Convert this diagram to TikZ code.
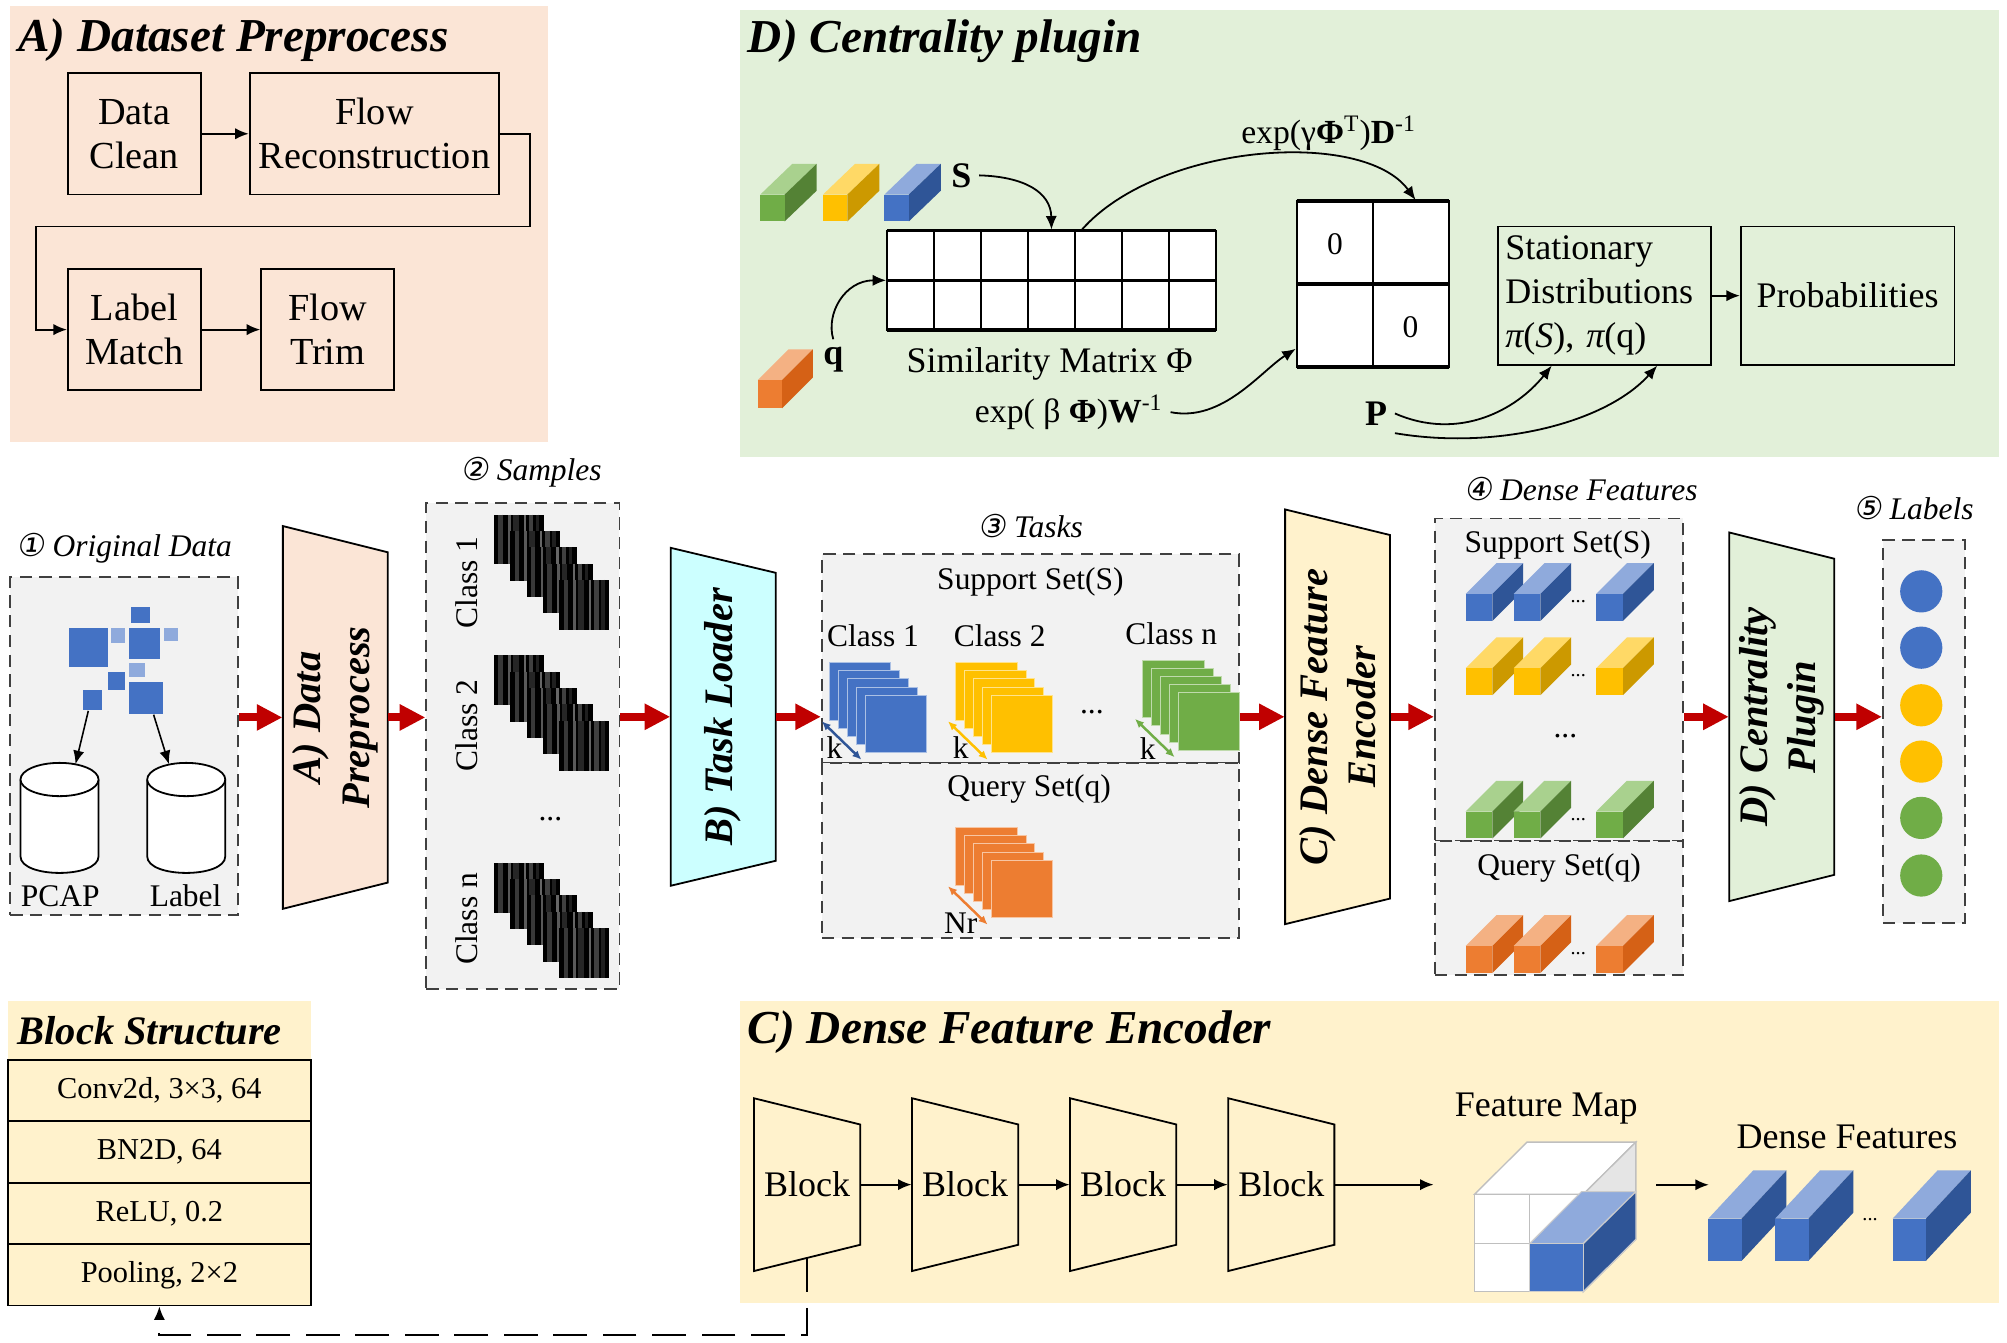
\documentclass[tikz,border=0pt]{standalone}
\usepackage{fontspec}
\setmainfont{Liberation Serif}
\newfontfamily\circfont[FakeSlant=0.15]{DejaVu Sans}
\usetikzlibrary{arrows.meta,positioning}

\definecolor{peach}{RGB}{251,229,214}
\definecolor{paleG}{RGB}{226,240,217}
\definecolor{paleY}{RGB}{255,242,204}
\definecolor{paleC}{RGB}{204,255,255}
\definecolor{lgray}{RGB}{242,242,242}
\definecolor{redc}{RGB}{192,0,0}
\definecolor{blueF}{RGB}{68,114,196}
\definecolor{blueT}{RGB}{143,170,220}
\definecolor{blueS}{RGB}{47,85,151}
\definecolor{yellF}{RGB}{255,192,0}
\definecolor{yellT}{RGB}{255,217,102}
\definecolor{yellS}{RGB}{204,153,0}
\definecolor{greenF}{RGB}{112,173,71}
\definecolor{greenT}{RGB}{169,209,142}
\definecolor{greenS}{RGB}{84,130,53}
\definecolor{orangeF}{RGB}{237,125,49}
\definecolor{orangeT}{RGB}{244,177,131}
\definecolor{orangeS}{RGB}{213,97,22}

% 3d feature bar: x, y (front top left), w, h, depth dx, dy, colour
\newcommand{\featbar}[7]{%
  \fill[#7T] (#1,#2) -- ++(#5,#6) -- ++(#3,0) -- (#1+#3,#2) -- cycle;
  \fill[#7S] (#1+#3,#2) -- ++(#5,#6) -- ++(0,#4) -- (#1+#3,#2+#4) -- cycle;
  \fill[#7F] (#1,#2) rectangle ++(#3,#4);}

% slanted module: name, x left, width, y centre, half height left, half height right, fill
\newcommand{\funnel}[7]{%
  \draw[line width=0.8pt, fill=#7] (#2,#4-#5) -- (#2+#3,#4-#6) -- (#2+#3,#4+#6) -- (#2,#4+#5) -- cycle;
  \node[minimum width=#3*0.02cm, minimum height=(#5+#6)*0.02cm, inner sep=0pt] (#1) at (#2+#3/2,#4) {};}

% stack of packet images
\newcommand{\pktstack}[2]{%
  \foreach \i in {0,...,4}{%
    \fill[black] (#1+12.75*\i,#2+12.75*\i) rectangle ++(39,39);
    \foreach \s/\g/\w in {5/22/2,12/35/1.2,17/15/2.4,24/40/1,29/25/1.8,34/12/1.5}
      \draw[white!\g!black, line width=\w pt] (#1+12.75*\i+\s,#2+12.75*\i) -- ++(0,39);
  }}

% stack of sample sheets: x, y, fill, arrow colour, label, label y
\newcommand{\sheets}[6]{%
  \foreach \i in {0,...,4}
    \filldraw[fill=#3, draw=white!55!#3, line width=0.4pt] (#1+6.95*\i,#2+6.4*\i) rectangle ++(48,45);
  \draw[{Latex[length=4pt,width=3.5pt]}-{Latex[length=4pt,width=3.5pt]}, draw=#4, line width=1.1pt] (#1-6,#2+46) -- (#1+25,#2+76);
  \node[small] at (#1+4,#2+#6) {#5};}

\begin{document}
\begin{tikzpicture}[x=0.02cm, y=-0.02cm, font=\fontsize{16}{19.6}\selectfont,
  box/.style={draw, line width=0.8pt, align=center, inner sep=0pt, font=\fontsize{17}{19.5}\selectfont},
  arr/.style={-{Latex[length=6pt,width=5pt]}, line width=0.8pt},
  redarr/.style={draw=redc, line width=3.6pt, -{Triangle[length=11.4pt,width=11pt]}},
  dbox/.style={draw=black!75, fill=lgray, dash pattern=on 5.5pt off 3.3pt, line width=0.8pt, inner sep=0pt},
  fb/.style={line width=0.8pt, dash pattern=on 15pt off 7pt, -{Latex[length=6pt,width=5pt]}},
  title/.style={anchor=west, inner sep=0pt, font=\fontsize{21}{25}\selectfont\bfseries\itshape},
  traptext/.style={rotate=90, align=center, font=\fontsize{18}{21.5}\selectfont\bfseries\itshape},
  lab/.style={font=\fontsize{14}{17}\selectfont\itshape},
  small/.style={font=\fontsize{14}{16}\selectfont},
  tiny/.style={font=\fontsize{9}{10}\selectfont},
  bold/.style={font=\fontsize{16}{19}\selectfont\bfseries},
  sq/.style={fill=blueF, inner sep=0pt},
  row/.style={draw, fill=paleY, line width=0.8pt, minimum width=4.74cm, minimum height=0.96cm, inner sep=0pt, font=\fontsize{13.5}{16}\selectfont}]

\useasboundingbox (0,0) rectangle (1568,1049);

% panels
\fill[peach] (8,5) rectangle (428,345);
\fill[paleG] (578,8) rectangle (1562,357);
\fill[paleY] (6,782) rectangle (243,1020);
\fill[paleY] (578,782) rectangle (1562,1018);

% A) Dataset Preprocess
\node[title] at (14,31) {A) Dataset Preprocess};
\node[box, minimum width=2.08cm, minimum height=1.9cm] (clean) at (105,104.5) {Data\\Clean};
\node[box, minimum width=3.9cm, minimum height=1.9cm] (recon) at (292.5,104.5) {Flow\\Reconstruction};
\node[box, minimum width=2.08cm, minimum height=1.9cm] (match) at (105,257.5) {Label\\Match};
\node[box, minimum width=2.08cm, minimum height=1.9cm] (trim) at (256,257.5) {Flow\\Trim};
\draw[arr] (clean) -- (recon);
\draw[arr] (recon.east) -- (414,104.5) |- (28,177) |- (match.west);
\draw[arr] (match) -- (trim);

% D) Centrality plugin
\node[title] at (584,32) {D) Centrality plugin};
\featbar{594}{152}{19}{21}{25}{-24}{green}
\featbar{643}{152}{19}{21}{25}{-24}{yell}
\featbar{691}{152}{19}{21}{25}{-24}{blue}
\featbar{592}{297}{19}{22}{24}{-24}{orange}
\node[bold] (S) at (751,137) {S};
\node[bold] (q) at (651,281) {q};
\node[draw, fill=white, line width=0.8pt, minimum width=5.14cm, minimum height=1.56cm, inner sep=0pt] (simmat) at (821.5,219) {};
\foreach \i in {1,...,6} \draw[line width=0.8pt] (693+36.71*\i,180) -- ++(0,78);
\foreach \j in {180,219,258} \draw[line width=1.6pt] (693,\j) -- (950,\j);
\node (simlab) at (820,284) {Similarity Matrix Φ};
\draw[arr] (S.east) .. controls (800,138) and (821,150) .. (simmat.north);
\draw[arr] (q.north) .. controls (645,245) and (660,219) .. (simmat.west);

\node[draw, fill=white, line width=0.8pt, minimum width=2.38cm, minimum height=2.6cm, inner sep=0pt] (pmat) at (1072.5,222) {};
\draw[line width=0.8pt] (pmat.north) -- (pmat.south);
\foreach \j in {157,222,287} \draw[line width=1.8pt] (1013,\j) -- (1132,\j);
\node[small] at (1043,191) {0};
\node[small] at (1102,256) {0};
\draw[arr] (simmat.59) .. controls (905,112) and (1065,100) .. (pmat.63);
\node[font=\fontsize{15}{18}\selectfont] at (1038,104) {exp(γ\textbf{Φ}\textsuperscript{T})\textbf{D}\textsuperscript{-1}};
\node[font=\fontsize{15}{18}\selectfont] (betalab) at (835,322) {exp( β \textbf{Φ})\textbf{W}\textsuperscript{-1}};
\draw[arr] (betalab.east) .. controls (955,330) and (985,290) .. (pmat.220);

\node[box, font=\fontsize{16}{19.6}\selectfont, minimum height=2.16cm, text width=3.1cm, inner xsep=0.12cm, align=left] (stat) at (1253.5,231) {Stationary\\Distributions\\{\itshape π}(\textit{S}), {\itshape π}(q)};
\node[box, font=\fontsize{16}{19.6}\selectfont, minimum width=3.34cm, minimum height=2.16cm] (prob) at (1443.5,231) {Probabilities};
\draw[arr] (stat) -- (prob);
\node[bold] (P) at (1075,323) {P};
\draw[arr] (P.east) .. controls (1140,345) and (1185,320) .. (stat.233);
\draw[arr] (P.south east) .. controls (1170,352) and (1255,330) .. (stat.307);

% 1) original data
\node[lab] at (97,428) {{\circfont ①} Original Data};
\node[dbox, minimum width=3.56cm, minimum height=5.28cm] (orig) at (97,583) {};
\fill[blueF] (102,474) rectangle (117,487);
\fill[blueF] (54,491) rectangle (84,521);
\fill[blueF] (101,491) rectangle (125,515);
\fill[blueF] (84,525) rectangle (98,539);
\fill[blueT] (87,491) rectangle (98,502);
\fill[blueT] (128,491) rectangle (139,501);
\fill[blueT] (101,518) rectangle (113,529);
\node[sq, minimum width=0.3cm, minimum height=0.32cm] (sqa) at (72.5,547) {};
\node[sq, minimum width=0.52cm, minimum height=0.5cm] (sqb) at (114,545.5) {};
\draw[fill=white, line width=0.8pt] (16,609) -- (16,669) .. controls (16,686.3) and (77,686.3) .. (77,669) -- (77,609);
\draw[fill=white, line width=0.8pt] (46.5,609) ellipse (30.5 and 13);
\draw[fill=white, line width=0.8pt] (115,609) -- (115,669) .. controls (115,686.3) and (176,686.3) .. (176,669) -- (176,609);
\draw[fill=white, line width=0.8pt] (145.5,609) ellipse (30.5 and 13);
\coordinate (pcaptop) at (59,597);
\coordinate (labtop) at (132,597);
\draw[arr, line width=0.7pt] ([xshift=-0.07cm]sqa.south) -- (pcaptop);
\draw[arr, line width=0.7pt] ([xshift=0.12cm]sqb.south) -- (labtop);
\node[small] at (47,700) {PCAP};
\node[small] at (145,700) {Label};

\funnel{prepA}{221}{82}{560.5}{149.5}{129}{peach}
\node[traptext] at (prepA) {A) Data\\Preprocess};

% 2) samples
\node[lab] at (415,369) {{\circfont ②} Samples};
\node[dbox, minimum width=3.02cm, minimum height=7.6cm] (samp) at (408.5,583) {};
\node[small, rotate=90] at (365,455) {Class 1};
\node[small, rotate=90] at (365,567) {Class 2};
\node[small, rotate=90] at (365,718) {Class n};
\node[small] at (430,640) {...};
\pktstack{386}{402}
\pktstack{386}{512}
\pktstack{386}{674}

\funnel{loader}{524}{82}{560}{132}{112.5}{paleC}
\node[traptext] at (loader) {B) Task Loader};

% 3) tasks
\node[lab] at (805,411) {{\circfont ③} Tasks};
\node[dbox, minimum width=6.52cm, minimum height=3.26cm] (supp) at (805,514.5) {};
\node[dbox, minimum width=6.52cm, minimum height=2.74cm] (query) at (805,664.5) {};
\node[small] at (805,455) {Support Set(S)};
\node[small] at (682,497) {Class 1};
\node[small] at (781,497) {Class 2};
\node[small] at (915,495) {Class n};
\sheets{648}{517.5}{blueF}{blueS}{k}{66.5}
\sheets{746.6}{517.5}{yellF}{yellF}{k}{66.5}
\sheets{892.7}{515.6}{greenF}{greenF}{k}{69}
\node[small] at (853,556) {...};
\node[small] at (804,616) {Query Set(q)};
\sheets{746.6}{646.4}{orangeF}{orangeF}{Nr}{75}

\funnel{encoder}{1004}{82}{560}{162}{142}{paleY}
\node[traptext] at (encoder) {C) Dense Feature\\Encoder};

% 4) dense features
\node[lab] at (1235,382) {{\circfont ④} Dense Features};
\node[dbox, minimum width=3.88cm, minimum height=5.04cm] (dsupp) at (1218,531) {};
\node[dbox, minimum width=3.88cm, minimum height=2.1cm] (dquery) at (1218,709.5) {};
\node[small] at (1217,426) {Support Set(S)};
\foreach \y/\col in {464/blue,522/yell,634/green,739/orange}{
  \featbar{1145}{\y}{21}{21}{24}{-24}{\col}
  \featbar{1182.5}{\y}{21}{21}{24}{-24}{\col}
  \featbar{1247}{\y}{21}{21}{24}{-24}{\col}
  \node[tiny] at (1233,\y+6) {...};
}
\node[small] at (1223,575) {...};
\node[small] at (1218,678) {Query Set(q)};

\funnel{plugin}{1351}{82}{560}{144}{123.5}{paleG}
\node[traptext] at (plugin) {D) Centrality\\Plugin};

% 5) labels
\node[lab] at (1495,397) {{\circfont ⑤} Labels};
\node[dbox, minimum width=1.28cm, minimum height=5.98cm] (labs) at (1503,571.5) {};
\foreach \y/\col in {462/blueF,506/blueF,551/yellF,595/yellF,639/greenF,684/greenF}
  \fill[\col] (1501,\y) circle (0.33cm);

% main flow
\draw[redarr] (prepA.west -| orig.east) -- (prepA.west);
\draw[redarr] (prepA.east) -- (prepA.east -| samp.west);
\draw[redarr] (loader.west -| samp.east) -- (loader.west);
\draw[redarr] (loader.east) -- (loader.east -| supp.west);
\draw[redarr] (encoder.west -| supp.east) -- (encoder.west);
\draw[redarr] (encoder.east) -- (encoder.east -| dsupp.west);
\draw[redarr] (plugin.west -| dsupp.east) -- (plugin.west);
\draw[redarr] (plugin.east) -- (plugin.east -| labs.west);

% Block Structure
\node[font=\fontsize{18}{21}\selectfont\bfseries\itshape] at (117,805) {Block Structure};
\node[row] (conv) at (124.5,852) {Conv2d, 3×3, 64};
\node[row, below=-0.8pt of conv] (bn) {BN2D, 64};
\node[row, below=-0.8pt of bn] (relu) {ReLU, 0.2};
\node[row, below=-0.8pt of relu] (pool) {Pooling, 2×2};

% C) Dense Feature Encoder
\node[title] at (584,806) {C) Dense Feature Encoder};
\funnel{b1}{589}{83}{925.5}{67.5}{47}{paleY}
\funnel{b2}{712.5}{83}{925.5}{67.5}{47}{paleY}
\funnel{b3}{836}{83}{925.5}{67.5}{47}{paleY}
\funnel{b4}{959.5}{83}{925.5}{67.5}{47}{paleY}
\foreach \n in {b1,b2,b3,b4} \node at (\n) {Block};
\draw[arr] (b1) -- (b2);
\draw[arr] (b2) -- (b3);
\draw[arr] (b3) -- (b4);
\coordinate (fmapin) at (1120,925.5);
\draw[arr] (b4.east) -- (fmapin);

\node (fmaplab) at (1208,866) {Feature Map};
\draw[fill=white, draw=black!25, line width=0.6pt] (1152,933) -- (1193,892.3) -- (1278,892.3) -- (1237,933) -- cycle;
\draw[fill=black!10, draw=black!25, line width=0.6pt] (1237,933) -- (1278,892.3) -- (1278,968.3) -- (1237,1009) -- cycle;
\draw[fill=white, draw=black!25, line width=0.6pt] (1152,933) rectangle (1237,1009);
\draw[black!25, line width=0.6pt] (1195,933) -- (1195,1009) (1152,971.6) -- (1237,971.6);
\draw[fill=blueT, draw=black!20, line width=0.5pt] (1195,971.6) -- (1235.5,931) -- (1278,931) -- (1237,971.6) -- cycle;
\draw[fill=blueS, draw=black!20, line width=0.5pt] (1237,971.6) -- (1278,931) -- (1278,968.3) -- (1237,1009) -- cycle;
\draw[fill=blueF, draw=black!20, line width=0.5pt] (1195,971.6) rectangle (1237,1009);
\coordinate (fmapout) at (1294,925.6);
\coordinate (densein) at (1335,925.6);
\draw[arr] (fmapout) -- (densein);
\node (denselab) at (1443,888) {Dense Features};
\featbar{1334.7}{952}{26}{33}{35}{-37.6}{blue}
\featbar{1386.9}{952}{26}{33}{35}{-37.6}{blue}
\featbar{1478.7}{952}{26}{33}{35}{-37.6}{blue}
\node[tiny] at (1461,953) {...};

\draw[fb] (b1.south) -- ++(0,60) -| (pool.south);
\end{tikzpicture}
\end{document}
